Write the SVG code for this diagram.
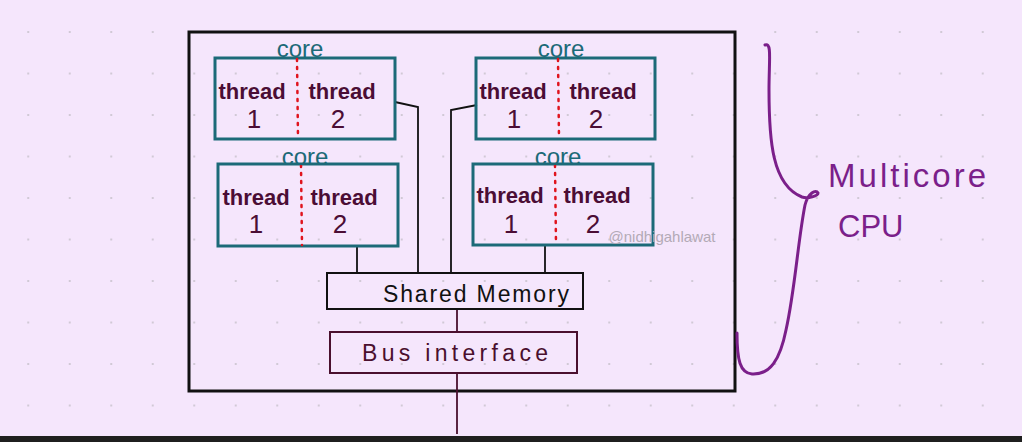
<svg xmlns="http://www.w3.org/2000/svg" width="1022" height="442" viewBox="0 0 1022 442">
<defs>
<pattern id="dots" patternUnits="userSpaceOnUse" x="7.5" y="11.25" width="41.5" height="41.5">
<circle cx="20.75" cy="20.75" r="1.1" fill="#c9c2cd"/>
</pattern>
<style>
.core{fill:none;stroke:#1c6a78;stroke-width:3}
.split{stroke:#e0141e;stroke-width:2.5;stroke-dasharray:2 6;stroke-linecap:round}
.lbl{font-family:"Liberation Sans",sans-serif;fill:#1c6a78;font-size:24px;text-anchor:middle}
.th{font-family:"Liberation Sans",sans-serif;fill:#4b0d35;font-size:22px;text-anchor:middle;font-weight:bold}
.num{font-family:"Liberation Sans",sans-serif;fill:#4b0d35;font-size:26px;text-anchor:middle}
.wire{fill:none;stroke:#111;stroke-width:1.8}
</style>
</defs>
<rect width="1022" height="442" fill="#f5e6fc"/>
<rect width="1022" height="442" fill="url(#dots)"/>
<rect x="0" y="436" width="1022" height="6" fill="#1f1f1f"/>

<g id="cpu">
<rect x="189" y="32" width="546" height="359" fill="none" stroke="#111" stroke-width="3"/>
</g>

<g id="connectors">
<polyline class="wire" points="395,102 418,107 418,273"/>
<polyline class="wire" points="477,105 451,110 451,273"/>
<line class="wire" x1="357" y1="246" x2="357" y2="273"/>
<line class="wire" x1="545" y1="245" x2="545" y2="273"/>
<line x1="457" y1="309" x2="457" y2="332" stroke="#4a0f2e" stroke-width="1.8"/>
<line x1="457" y1="373" x2="457" y2="434" stroke="#4a0f2e" stroke-width="1.8"/>
</g>

<g id="core-top-left">
<rect class="core" x="215" y="58" width="180" height="81"/>
<line class="split" x1="297" y1="59" x2="298" y2="138"/>
<text class="lbl" x="300" y="57">core</text>
<text class="th" x="252" y="99">thread</text>
<text class="num" x="254" y="128">1</text>
<text class="th" x="342" y="99">thread</text>
<text class="num" x="338" y="128">2</text>
</g>

<g id="core-top-right">
<rect class="core" x="476" y="58" width="179" height="81"/>
<line class="split" x1="558" y1="59" x2="559" y2="138"/>
<text class="lbl" x="561" y="57">core</text>
<text class="th" x="513" y="99">thread</text>
<text class="num" x="514" y="128">1</text>
<text class="th" x="603" y="99">thread</text>
<text class="num" x="596" y="128">2</text>
</g>

<g id="core-bottom-left">
<rect class="core" x="218" y="164" width="180" height="82"/>
<line class="split" x1="301" y1="165" x2="302" y2="245"/>
<text class="lbl" x="305" y="165">core</text>
<text class="th" x="256" y="205">thread</text>
<text class="num" x="256" y="233">1</text>
<text class="th" x="344" y="205">thread</text>
<text class="num" x="340" y="233">2</text>
</g>

<g id="core-bottom-right">
<rect class="core" x="473" y="164" width="180" height="81"/>
<line class="split" x1="555" y1="165" x2="556" y2="244"/>
<text class="lbl" x="558" y="165">core</text>
<text class="th" x="510" y="203">thread</text>
<text class="num" x="511" y="233">1</text>
<text class="th" x="597" y="203">thread</text>
<text class="num" x="593" y="233">2</text>
</g>

<g id="shared-memory">
<rect x="327" y="273" width="256" height="36" fill="none" stroke="#111" stroke-width="2"/>
<text x="476" y="302" font-family="Liberation Sans, sans-serif" font-size="23" fill="#111" text-anchor="middle" textLength="186">Shared Memory</text>
</g>

<g id="bus-interface">
<rect x="330" y="332" width="247" height="41" fill="none" stroke="#4a0f2e" stroke-width="2"/>
<text x="455" y="361" font-family="Liberation Sans, sans-serif" font-size="23" fill="#4a0f2e" text-anchor="middle" textLength="186">Bus  interface</text>
</g>

<text x="662" y="242" font-family="Liberation Sans, sans-serif" font-size="15" fill="#b3aab6" text-anchor="middle">@nidhigahlawat</text>

<g id="brace">
<path d="M765,45 C772,42 769,60 769,90 C769,140 772,185 802,197 C808,199 818,196 818,193 C816,189 808,193 805,205 C798,240 795,290 786,330 C780,360 770,375 752,374 C740,373 737,360 737,333" fill="none" stroke="#7b1f8a" stroke-width="3" stroke-linecap="round" stroke-linejoin="round"/>
<text x="828" y="187" font-family="Liberation Sans, sans-serif" font-size="33" fill="#7b1f8a" textLength="158">Multicore</text>
<text x="838" y="237" font-family="Liberation Sans, sans-serif" font-size="31" fill="#7b1f8a">CPU</text>
</g>
</svg>
